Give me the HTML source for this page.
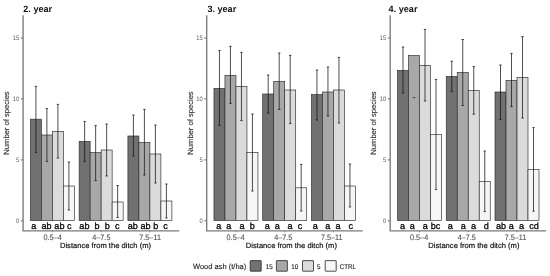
<!DOCTYPE html>
<html><head><meta charset="utf-8"><title>Number of species</title>
<style>html,body{margin:0;padding:0;background:#fff}svg{display:block}</style></head>
<body>
<svg width="550" height="276" viewBox="0 0 550 276" font-family="'Liberation Sans', sans-serif" text-rendering="geometricPrecision">
<rect width="550" height="276" fill="#fff"/>
<g>
<text x="23.3" y="11.5" font-size="9.1" font-weight="bold" fill="#111">2. year</text>
<text transform="translate(9.3,123.0) rotate(-90)" text-anchor="middle" font-size="7.6" fill="#1c1c1c" stroke="#1c1c1c" stroke-width="0.08">Number of species</text>
<text x="105.5" y="247.65" text-anchor="middle" font-size="7.6" fill="#111" stroke="#111" stroke-width="0.18">Distance from the ditch (m)</text>
<line x1="20.8" x2="23.1" y1="220.8" y2="220.8" stroke="#555" stroke-width="0.9"/>
<text transform="translate(19.1,222.9) scale(0.9,1)" text-anchor="end" font-size="6.4" fill="#5c5c5c">0</text>
<line x1="20.8" x2="23.1" y1="159.9" y2="159.9" stroke="#555" stroke-width="0.9"/>
<text transform="translate(19.1,162.0) scale(0.9,1)" text-anchor="end" font-size="6.4" fill="#5c5c5c">5</text>
<line x1="20.8" x2="23.1" y1="98.9" y2="98.9" stroke="#555" stroke-width="0.9"/>
<text transform="translate(19.1,101.0) scale(0.9,1)" text-anchor="end" font-size="6.4" fill="#5c5c5c">10</text>
<line x1="20.8" x2="23.1" y1="38.0" y2="38.0" stroke="#555" stroke-width="0.9"/>
<text transform="translate(19.1,40.1) scale(0.9,1)" text-anchor="end" font-size="6.4" fill="#5c5c5c">15</text>
<rect x="30.40" y="119.2" width="11.0" height="101.4" fill="#717171" stroke="#2a2a2a" stroke-width="0.65"/>
<rect x="41.40" y="135.0" width="11.0" height="85.6" fill="#a8a8a8" stroke="#2a2a2a" stroke-width="0.65"/>
<rect x="52.40" y="131.4" width="11.0" height="89.2" fill="#dbdbdb" stroke="#2a2a2a" stroke-width="0.65"/>
<rect x="63.40" y="186.0" width="11.0" height="34.6" fill="#f6f6f6" stroke="#2a2a2a" stroke-width="0.65"/>
<path d="M34.70 86.4H37.10M35.90 86.4V152.4M34.70 152.4H37.10" fill="none" stroke="#141414" stroke-width="0.75"/>
<path d="M45.70 108.6H48.10M46.90 108.6V161.4M45.70 161.4H48.10" fill="none" stroke="#141414" stroke-width="0.75"/>
<path d="M56.70 104.4H59.10M57.90 104.4V158.0M56.70 158.0H59.10" fill="none" stroke="#141414" stroke-width="0.75"/>
<path d="M67.70 162.0H70.10M68.90 162.0V210.0M67.70 210.0H70.10" fill="none" stroke="#141414" stroke-width="0.75"/>
<text x="33.80" y="228.7" text-anchor="middle" font-size="9.1" fill="#0a0a0a" stroke="#0a0a0a" stroke-width="0.3">a</text>
<text x="46.50" y="228.7" text-anchor="middle" font-size="9.1" fill="#0a0a0a" stroke="#0a0a0a" stroke-width="0.3">ab</text>
<text x="59.40" y="228.7" text-anchor="middle" font-size="9.1" fill="#0a0a0a" stroke="#0a0a0a" stroke-width="0.3">ab</text>
<text x="69.20" y="228.7" text-anchor="middle" font-size="9.1" fill="#0a0a0a" stroke="#0a0a0a" stroke-width="0.3">c</text>
<line x1="52.40" x2="52.40" y1="230.8" y2="232.3" stroke="#666" stroke-width="0.8"/>
<text transform="translate(52.60,240.3) scale(0.98,1.08)" text-anchor="middle" font-size="7.4" fill="#505050" stroke="#505050" stroke-width="0.1">0.5–4</text>
<rect x="79.15" y="141.4" width="11.0" height="79.2" fill="#717171" stroke="#2a2a2a" stroke-width="0.65"/>
<rect x="90.15" y="152.6" width="11.0" height="68.0" fill="#a8a8a8" stroke="#2a2a2a" stroke-width="0.65"/>
<rect x="101.15" y="150.0" width="11.0" height="70.6" fill="#dbdbdb" stroke="#2a2a2a" stroke-width="0.65"/>
<rect x="112.15" y="202.0" width="11.0" height="18.6" fill="#f6f6f6" stroke="#2a2a2a" stroke-width="0.65"/>
<path d="M83.45 121.4H85.85M84.65 121.4V161.4M83.45 161.4H85.85" fill="none" stroke="#141414" stroke-width="0.75"/>
<path d="M94.45 125.6H96.85M95.65 125.6V180.6M94.45 180.6H96.85" fill="none" stroke="#141414" stroke-width="0.75"/>
<path d="M105.45 124.0H107.85M106.65 124.0V176.0M105.45 176.0H107.85" fill="none" stroke="#141414" stroke-width="0.75"/>
<path d="M116.45 185.5H118.85M117.65 185.5V217.5M116.45 217.5H118.85" fill="none" stroke="#141414" stroke-width="0.75"/>
<text x="84.40" y="228.7" text-anchor="middle" font-size="9.1" fill="#0a0a0a" stroke="#0a0a0a" stroke-width="0.3">ab</text>
<text x="97.10" y="228.7" text-anchor="middle" font-size="9.1" fill="#0a0a0a" stroke="#0a0a0a" stroke-width="0.3">b</text>
<text x="107.30" y="228.7" text-anchor="middle" font-size="9.1" fill="#0a0a0a" stroke="#0a0a0a" stroke-width="0.3">b</text>
<text x="117.20" y="228.7" text-anchor="middle" font-size="9.1" fill="#0a0a0a" stroke="#0a0a0a" stroke-width="0.3">c</text>
<line x1="101.15" x2="101.15" y1="230.8" y2="232.3" stroke="#666" stroke-width="0.8"/>
<text transform="translate(101.35,240.3) scale(0.98,1.08)" text-anchor="middle" font-size="7.4" fill="#505050" stroke="#505050" stroke-width="0.1">4–7.5</text>
<rect x="127.90" y="136.0" width="11.0" height="84.6" fill="#717171" stroke="#2a2a2a" stroke-width="0.65"/>
<rect x="138.90" y="142.6" width="11.0" height="78.0" fill="#a8a8a8" stroke="#2a2a2a" stroke-width="0.65"/>
<rect x="149.90" y="154.0" width="11.0" height="66.6" fill="#dbdbdb" stroke="#2a2a2a" stroke-width="0.65"/>
<rect x="160.90" y="201.0" width="11.0" height="19.6" fill="#f6f6f6" stroke="#2a2a2a" stroke-width="0.65"/>
<path d="M132.20 115.0H134.60M133.40 115.0V156.0M132.20 156.0H134.60" fill="none" stroke="#141414" stroke-width="0.75"/>
<path d="M143.20 109.4H145.60M144.40 109.4V175.0M143.20 175.0H145.60" fill="none" stroke="#141414" stroke-width="0.75"/>
<path d="M154.20 125.0H156.60M155.40 125.0V183.0M154.20 183.0H156.60" fill="none" stroke="#141414" stroke-width="0.75"/>
<path d="M165.20 184.0H167.60M166.40 184.0V218.0M165.20 218.0H167.60" fill="none" stroke="#141414" stroke-width="0.75"/>
<text x="132.80" y="228.7" text-anchor="middle" font-size="9.1" fill="#0a0a0a" stroke="#0a0a0a" stroke-width="0.3">ab</text>
<text x="145.50" y="228.7" text-anchor="middle" font-size="9.1" fill="#0a0a0a" stroke="#0a0a0a" stroke-width="0.3">ab</text>
<text x="155.70" y="228.7" text-anchor="middle" font-size="9.1" fill="#0a0a0a" stroke="#0a0a0a" stroke-width="0.3">b</text>
<text x="165.60" y="228.7" text-anchor="middle" font-size="9.1" fill="#0a0a0a" stroke="#0a0a0a" stroke-width="0.3">c</text>
<line x1="149.90" x2="149.90" y1="230.8" y2="232.3" stroke="#666" stroke-width="0.8"/>
<text transform="translate(150.10,240.3) scale(0.98,1.08)" text-anchor="middle" font-size="7.4" fill="#505050" stroke="#505050" stroke-width="0.1">7.5–11</text>
<path d="M23.1 15.3V230.8H179.2" fill="none" stroke="#7a7a7a" stroke-width="1.35"/>
</g>
<g>
<text x="207.4" y="11.5" font-size="9.1" font-weight="bold" fill="#111">3. year</text>
<text transform="translate(193.1,123.0) rotate(-90)" text-anchor="middle" font-size="7.6" fill="#1c1c1c" stroke="#1c1c1c" stroke-width="0.08">Number of species</text>
<text x="291.4" y="247.65" text-anchor="middle" font-size="7.6" fill="#111" stroke="#111" stroke-width="0.18">Distance from the ditch (m)</text>
<line x1="204.3" x2="206.7" y1="220.8" y2="220.8" stroke="#555" stroke-width="0.9"/>
<text transform="translate(202.7,222.9) scale(0.9,1)" text-anchor="end" font-size="6.4" fill="#5c5c5c">0</text>
<line x1="204.3" x2="206.7" y1="159.9" y2="159.9" stroke="#555" stroke-width="0.9"/>
<text transform="translate(202.7,162.0) scale(0.9,1)" text-anchor="end" font-size="6.4" fill="#5c5c5c">5</text>
<line x1="204.3" x2="206.7" y1="98.9" y2="98.9" stroke="#555" stroke-width="0.9"/>
<text transform="translate(202.7,101.0) scale(0.9,1)" text-anchor="end" font-size="6.4" fill="#5c5c5c">10</text>
<line x1="204.3" x2="206.7" y1="38.0" y2="38.0" stroke="#555" stroke-width="0.9"/>
<text transform="translate(202.7,40.1) scale(0.9,1)" text-anchor="end" font-size="6.4" fill="#5c5c5c">15</text>
<rect x="213.95" y="88.4" width="11.0" height="132.2" fill="#717171" stroke="#2a2a2a" stroke-width="0.65"/>
<rect x="224.95" y="75.3" width="11.0" height="145.2" fill="#a8a8a8" stroke="#2a2a2a" stroke-width="0.65"/>
<rect x="235.95" y="86.4" width="11.0" height="134.2" fill="#dbdbdb" stroke="#2a2a2a" stroke-width="0.65"/>
<rect x="246.95" y="152.6" width="11.0" height="68.0" fill="#f6f6f6" stroke="#2a2a2a" stroke-width="0.65"/>
<path d="M218.25 50.6H220.65M219.45 50.6V125.4M218.25 125.4H220.65" fill="none" stroke="#141414" stroke-width="0.75"/>
<path d="M229.25 46.4H231.65M230.45 46.4V103.4M229.25 103.4H231.65" fill="none" stroke="#141414" stroke-width="0.75"/>
<path d="M240.25 52.4H242.65M241.45 52.4V120.6M240.25 120.6H242.65" fill="none" stroke="#141414" stroke-width="0.75"/>
<path d="M251.25 114.0H253.65M252.45 114.0V191.0M251.25 191.0H253.65" fill="none" stroke="#141414" stroke-width="0.75"/>
<text x="218.80" y="229.0" text-anchor="middle" font-size="9.1" fill="#0a0a0a" stroke="#0a0a0a" stroke-width="0.3">a</text>
<text x="228.90" y="229.0" text-anchor="middle" font-size="9.1" fill="#0a0a0a" stroke="#0a0a0a" stroke-width="0.3">a</text>
<text x="242.10" y="229.0" text-anchor="middle" font-size="9.1" fill="#0a0a0a" stroke="#0a0a0a" stroke-width="0.3">a</text>
<text x="252.30" y="229.0" text-anchor="middle" font-size="9.1" fill="#0a0a0a" stroke="#0a0a0a" stroke-width="0.3">b</text>
<line x1="235.95" x2="235.95" y1="230.8" y2="232.3" stroke="#666" stroke-width="0.8"/>
<text transform="translate(235.65,239.85) scale(0.98,1.08)" text-anchor="middle" font-size="7.4" fill="#505050" stroke="#505050" stroke-width="0.1">0.5–4</text>
<rect x="262.70" y="94.0" width="11.0" height="126.6" fill="#717171" stroke="#2a2a2a" stroke-width="0.65"/>
<rect x="273.70" y="81.4" width="11.0" height="139.2" fill="#a8a8a8" stroke="#2a2a2a" stroke-width="0.65"/>
<rect x="284.70" y="90.0" width="11.0" height="130.6" fill="#dbdbdb" stroke="#2a2a2a" stroke-width="0.65"/>
<rect x="295.70" y="187.8" width="11.0" height="32.8" fill="#f6f6f6" stroke="#2a2a2a" stroke-width="0.65"/>
<path d="M267.00 75.0H269.40M268.20 75.0V113.0M267.00 113.0H269.40" fill="none" stroke="#141414" stroke-width="0.75"/>
<path d="M278.00 53.0H280.40M279.20 53.0V109.4M278.00 109.4H280.40" fill="none" stroke="#141414" stroke-width="0.75"/>
<path d="M289.00 55.4H291.40M290.20 55.4V123.6M289.00 123.6H291.40" fill="none" stroke="#141414" stroke-width="0.75"/>
<path d="M300.00 164.4H302.40M301.20 164.4V211.0M300.00 211.0H302.40" fill="none" stroke="#141414" stroke-width="0.75"/>
<text x="267.30" y="229.0" text-anchor="middle" font-size="9.1" fill="#0a0a0a" stroke="#0a0a0a" stroke-width="0.3">a</text>
<text x="277.40" y="229.0" text-anchor="middle" font-size="9.1" fill="#0a0a0a" stroke="#0a0a0a" stroke-width="0.3">a</text>
<text x="290.00" y="229.0" text-anchor="middle" font-size="9.1" fill="#0a0a0a" stroke="#0a0a0a" stroke-width="0.3">a</text>
<text x="300.10" y="229.0" text-anchor="middle" font-size="9.1" fill="#0a0a0a" stroke="#0a0a0a" stroke-width="0.3">c</text>
<line x1="284.70" x2="284.70" y1="230.8" y2="232.3" stroke="#666" stroke-width="0.8"/>
<text transform="translate(283.20,239.85) scale(0.98,1.08)" text-anchor="middle" font-size="7.4" fill="#505050" stroke="#505050" stroke-width="0.1">4–7.5</text>
<rect x="311.45" y="94.6" width="11.0" height="126.0" fill="#717171" stroke="#2a2a2a" stroke-width="0.65"/>
<rect x="322.45" y="92.0" width="11.0" height="128.6" fill="#a8a8a8" stroke="#2a2a2a" stroke-width="0.65"/>
<rect x="333.45" y="90.0" width="11.0" height="130.6" fill="#dbdbdb" stroke="#2a2a2a" stroke-width="0.65"/>
<rect x="344.45" y="186.0" width="11.0" height="34.6" fill="#f6f6f6" stroke="#2a2a2a" stroke-width="0.65"/>
<path d="M315.75 70.0H318.15M316.95 70.0V120.0M315.75 120.0H318.15" fill="none" stroke="#141414" stroke-width="0.75"/>
<path d="M326.75 67.0H329.15M327.95 67.0V116.0M326.75 116.0H329.15" fill="none" stroke="#141414" stroke-width="0.75"/>
<path d="M337.75 57.4H340.15M338.95 57.4V123.0M337.75 123.0H340.15" fill="none" stroke="#141414" stroke-width="0.75"/>
<path d="M348.75 164.0H351.15M349.95 164.0V207.0M348.75 207.0H351.15" fill="none" stroke="#141414" stroke-width="0.75"/>
<text x="315.20" y="229.0" text-anchor="middle" font-size="9.1" fill="#0a0a0a" stroke="#0a0a0a" stroke-width="0.3">a</text>
<text x="327.90" y="229.0" text-anchor="middle" font-size="9.1" fill="#0a0a0a" stroke="#0a0a0a" stroke-width="0.3">a</text>
<text x="338.00" y="229.0" text-anchor="middle" font-size="9.1" fill="#0a0a0a" stroke="#0a0a0a" stroke-width="0.3">a</text>
<text x="350.80" y="229.0" text-anchor="middle" font-size="9.1" fill="#0a0a0a" stroke="#0a0a0a" stroke-width="0.3">c</text>
<line x1="333.45" x2="333.45" y1="230.8" y2="232.3" stroke="#666" stroke-width="0.8"/>
<text transform="translate(331.75,239.85) scale(0.98,1.08)" text-anchor="middle" font-size="7.4" fill="#505050" stroke="#505050" stroke-width="0.1">7.5–11</text>
<path d="M206.7 15.3V230.8H362.7" fill="none" stroke="#7a7a7a" stroke-width="1.35"/>
</g>
<g>
<text x="388.6" y="11.5" font-size="9.1" font-weight="bold" fill="#111">4. year</text>
<text transform="translate(376.2,123.0) rotate(-90)" text-anchor="middle" font-size="7.6" fill="#1c1c1c" stroke="#1c1c1c" stroke-width="0.08">Number of species</text>
<text x="473.9" y="247.65" text-anchor="middle" font-size="7.6" fill="#111" stroke="#111" stroke-width="0.18">Distance from the ditch (m)</text>
<line x1="387.9" x2="390.2" y1="220.8" y2="220.8" stroke="#555" stroke-width="0.9"/>
<text transform="translate(386.2,222.9) scale(0.9,1)" text-anchor="end" font-size="6.4" fill="#5c5c5c">0</text>
<line x1="387.9" x2="390.2" y1="159.9" y2="159.9" stroke="#555" stroke-width="0.9"/>
<text transform="translate(386.2,162.0) scale(0.9,1)" text-anchor="end" font-size="6.4" fill="#5c5c5c">5</text>
<line x1="387.9" x2="390.2" y1="98.9" y2="98.9" stroke="#555" stroke-width="0.9"/>
<text transform="translate(386.2,101.0) scale(0.9,1)" text-anchor="end" font-size="6.4" fill="#5c5c5c">10</text>
<line x1="387.9" x2="390.2" y1="38.0" y2="38.0" stroke="#555" stroke-width="0.9"/>
<text transform="translate(386.2,40.1) scale(0.9,1)" text-anchor="end" font-size="6.4" fill="#5c5c5c">15</text>
<rect x="397.50" y="70.4" width="11.0" height="150.2" fill="#717171" stroke="#2a2a2a" stroke-width="0.65"/>
<rect x="408.50" y="55.6" width="11.0" height="165.0" fill="#a8a8a8" stroke="#2a2a2a" stroke-width="0.65"/>
<rect x="419.50" y="65.4" width="11.0" height="155.2" fill="#dbdbdb" stroke="#2a2a2a" stroke-width="0.65"/>
<rect x="430.50" y="134.6" width="11.0" height="86.0" fill="#f6f6f6" stroke="#2a2a2a" stroke-width="0.65"/>
<path d="M401.80 47.0H404.20M403.00 47.0V93.0M401.80 93.0H404.20" fill="none" stroke="#141414" stroke-width="0.75"/>
<line x1="412.80" x2="415.20" y1="97.6" y2="97.6" stroke="#141414" stroke-width="0.75"/>
<path d="M423.80 29.4H426.20M425.00 29.4V101.0M423.80 101.0H426.20" fill="none" stroke="#141414" stroke-width="0.75"/>
<path d="M434.80 79.4H437.20M436.00 79.4V189.6M434.80 189.6H437.20" fill="none" stroke="#141414" stroke-width="0.75"/>
<text x="402.50" y="229.1" text-anchor="middle" font-size="9.1" fill="#0a0a0a" stroke="#0a0a0a" stroke-width="0.3">a</text>
<text x="412.40" y="229.1" text-anchor="middle" font-size="9.1" fill="#0a0a0a" stroke="#0a0a0a" stroke-width="0.3">a</text>
<text x="425.20" y="229.1" text-anchor="middle" font-size="9.1" fill="#0a0a0a" stroke="#0a0a0a" stroke-width="0.3">a</text>
<text x="435.50" y="229.1" text-anchor="middle" font-size="9.1" fill="#0a0a0a" stroke="#0a0a0a" stroke-width="0.3">bc</text>
<line x1="419.50" x2="419.50" y1="230.8" y2="232.3" stroke="#666" stroke-width="0.8"/>
<text transform="translate(419.10,240.1) scale(0.98,1.08)" text-anchor="middle" font-size="7.4" fill="#505050" stroke="#505050" stroke-width="0.1">0.5–4</text>
<rect x="446.25" y="76.5" width="11.0" height="144.1" fill="#717171" stroke="#2a2a2a" stroke-width="0.65"/>
<rect x="457.25" y="72.5" width="11.0" height="148.1" fill="#a8a8a8" stroke="#2a2a2a" stroke-width="0.65"/>
<rect x="468.25" y="90.4" width="11.0" height="130.2" fill="#dbdbdb" stroke="#2a2a2a" stroke-width="0.65"/>
<rect x="479.25" y="181.4" width="11.0" height="39.2" fill="#f6f6f6" stroke="#2a2a2a" stroke-width="0.65"/>
<path d="M450.55 61.3H452.95M451.75 61.3V91.4M450.55 91.4H452.95" fill="none" stroke="#141414" stroke-width="0.75"/>
<path d="M461.55 39.5H463.95M462.75 39.5V105.5M461.55 105.5H463.95" fill="none" stroke="#141414" stroke-width="0.75"/>
<path d="M472.55 66.6H474.95M473.75 66.6V114.2M472.55 114.2H474.95" fill="none" stroke="#141414" stroke-width="0.75"/>
<path d="M483.55 151.0H485.95M484.75 151.0V211.6M483.55 211.6H485.95" fill="none" stroke="#141414" stroke-width="0.75"/>
<text x="450.20" y="229.1" text-anchor="middle" font-size="9.1" fill="#0a0a0a" stroke="#0a0a0a" stroke-width="0.3">a</text>
<text x="463.30" y="229.1" text-anchor="middle" font-size="9.1" fill="#0a0a0a" stroke="#0a0a0a" stroke-width="0.3">a</text>
<text x="473.60" y="229.1" text-anchor="middle" font-size="9.1" fill="#0a0a0a" stroke="#0a0a0a" stroke-width="0.3">a</text>
<text x="486.30" y="229.1" text-anchor="middle" font-size="9.1" fill="#0a0a0a" stroke="#0a0a0a" stroke-width="0.3">d</text>
<line x1="468.25" x2="468.25" y1="230.8" y2="232.3" stroke="#666" stroke-width="0.8"/>
<text transform="translate(466.75,240.1) scale(0.98,1.08)" text-anchor="middle" font-size="7.4" fill="#505050" stroke="#505050" stroke-width="0.1">4–7.5</text>
<rect x="495.00" y="92.0" width="11.0" height="128.6" fill="#717171" stroke="#2a2a2a" stroke-width="0.65"/>
<rect x="506.00" y="80.4" width="11.0" height="140.2" fill="#a8a8a8" stroke="#2a2a2a" stroke-width="0.65"/>
<rect x="517.00" y="77.4" width="11.0" height="143.2" fill="#dbdbdb" stroke="#2a2a2a" stroke-width="0.65"/>
<rect x="528.00" y="169.4" width="11.0" height="51.2" fill="#f6f6f6" stroke="#2a2a2a" stroke-width="0.65"/>
<path d="M499.30 65.0H501.70M500.50 65.0V119.6M499.30 119.6H501.70" fill="none" stroke="#141414" stroke-width="0.75"/>
<path d="M510.30 53.4H512.70M511.50 53.4V106.6M510.30 106.6H512.70" fill="none" stroke="#141414" stroke-width="0.75"/>
<path d="M521.30 36.6H523.70M522.50 36.6V118.0M521.30 118.0H523.70" fill="none" stroke="#141414" stroke-width="0.75"/>
<path d="M532.30 127.6H534.70M533.50 127.6V211.2M532.30 211.2H534.70" fill="none" stroke="#141414" stroke-width="0.75"/>
<text x="501.10" y="229.1" text-anchor="middle" font-size="9.1" fill="#0a0a0a" stroke="#0a0a0a" stroke-width="0.3">ab</text>
<text x="511.20" y="229.1" text-anchor="middle" font-size="9.1" fill="#0a0a0a" stroke="#0a0a0a" stroke-width="0.3">a</text>
<text x="521.60" y="229.1" text-anchor="middle" font-size="9.1" fill="#0a0a0a" stroke="#0a0a0a" stroke-width="0.3">a</text>
<text x="534.10" y="229.1" text-anchor="middle" font-size="9.1" fill="#0a0a0a" stroke="#0a0a0a" stroke-width="0.3">cd</text>
<line x1="517.00" x2="517.00" y1="230.8" y2="232.3" stroke="#666" stroke-width="0.8"/>
<text transform="translate(515.50,240.1) scale(0.98,1.08)" text-anchor="middle" font-size="7.4" fill="#505050" stroke="#505050" stroke-width="0.1">7.5–11</text>
<path d="M390.2 15.3V230.8H546.2" fill="none" stroke="#7a7a7a" stroke-width="1.35"/>
</g>
<text x="193" y="269.3" font-size="7.5" fill="#1a1a1a" stroke="#1a1a1a" stroke-width="0.12">Wood ash (t/ha)</text>
<rect x="250.2" y="260.6" width="11" height="10.6" rx="0.4" fill="#717171" stroke="#303030" stroke-width="0.85"/>
<text transform="translate(265.7,269.1) scale(1,1.1)" font-size="6.25" fill="#222" stroke="#222" stroke-width="0.12">15</text>
<rect x="276.4" y="260.6" width="11" height="10.6" rx="0.4" fill="#a8a8a8" stroke="#303030" stroke-width="0.85"/>
<text transform="translate(291.3,269.1) scale(1,1.1)" font-size="6.25" fill="#222" stroke="#222" stroke-width="0.12">10</text>
<rect x="302.5" y="260.6" width="11" height="10.6" rx="0.4" fill="#dbdbdb" stroke="#303030" stroke-width="0.85"/>
<text transform="translate(317.1,269.1) scale(1,1.1)" font-size="6.25" fill="#222" stroke="#222" stroke-width="0.12">5</text>
<rect x="325.2" y="260.6" width="11" height="10.6" rx="0.4" fill="#f6f6f6" stroke="#303030" stroke-width="0.85"/>
<text transform="translate(339.7,269.1) scale(1,1.1)" font-size="6.25" fill="#222" stroke="#222" stroke-width="0.12">CTRL</text>
</svg>
</body></html>
